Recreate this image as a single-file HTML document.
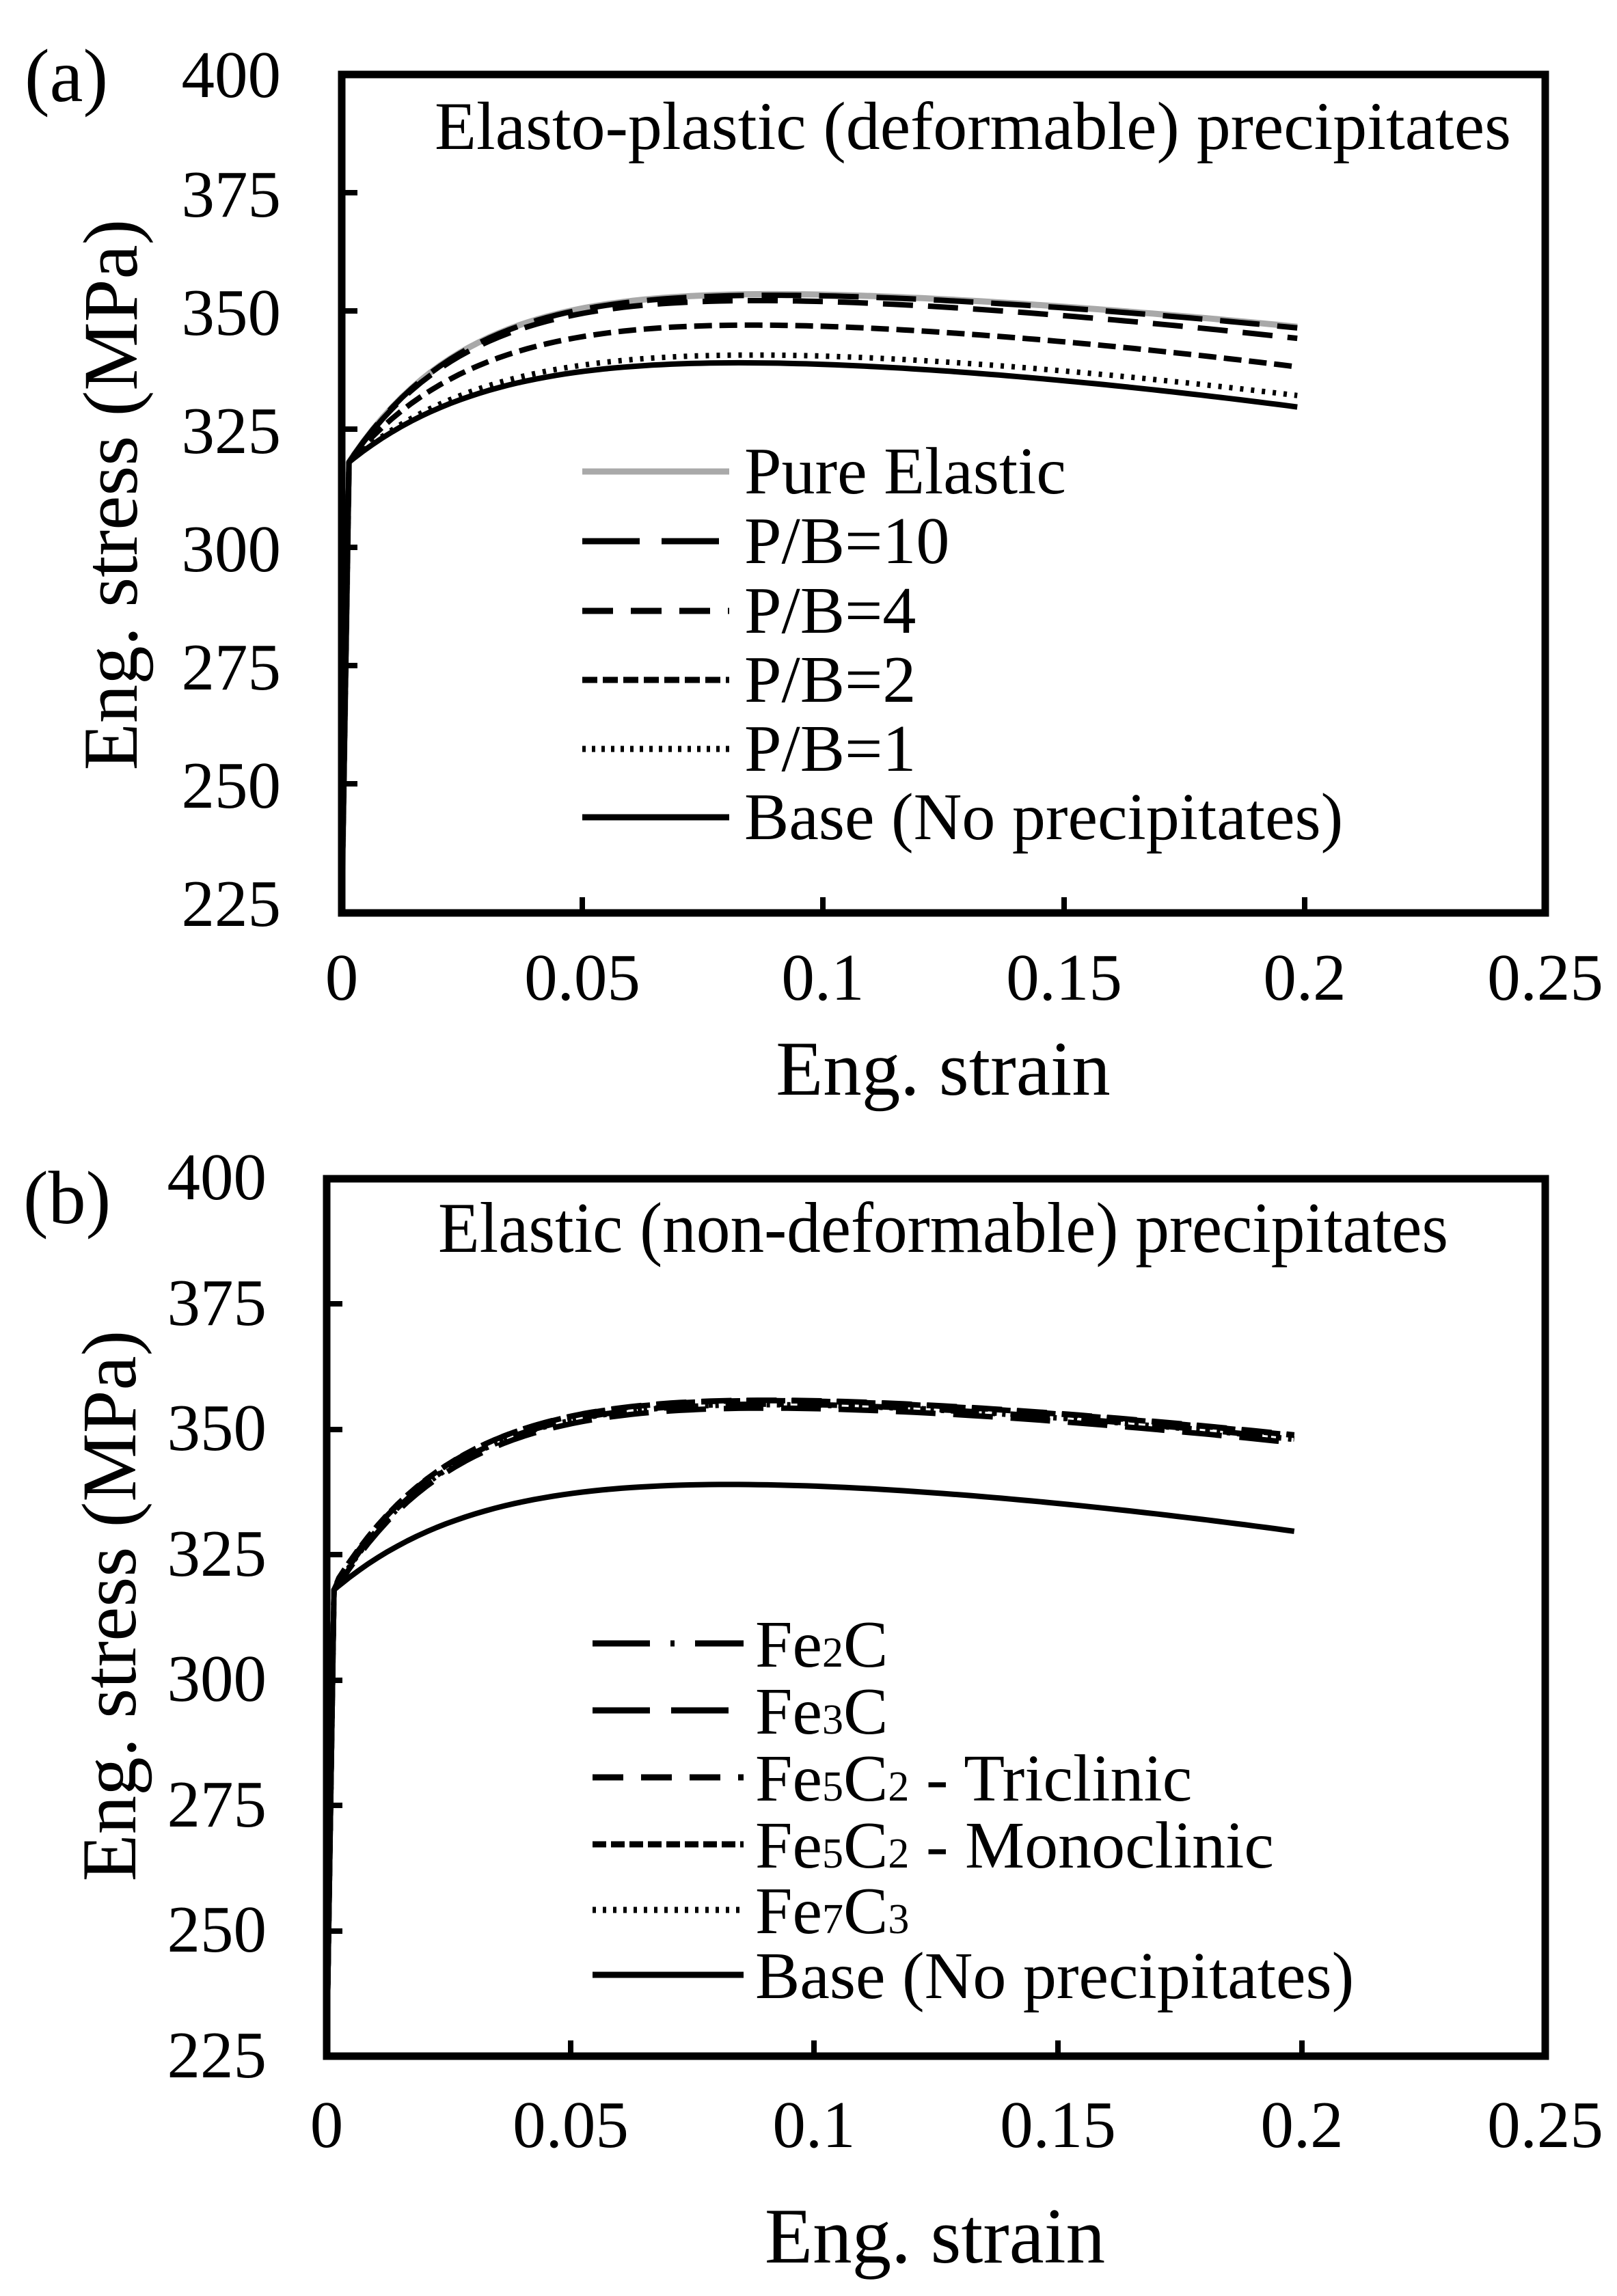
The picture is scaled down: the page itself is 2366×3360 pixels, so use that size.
<!DOCTYPE html>
<html><head><meta charset="utf-8">
<style>
html,body{margin:0;padding:0;background:#fff;}
svg{display:block;}
text{font-family:"Liberation Serif","DejaVu Serif",serif;fill:#000;}
</style></head>
<body>
<svg id="s" width="2366" height="3360" viewBox="0 0 2366 3360" xmlns="http://www.w3.org/2000/svg">
<rect width="2366" height="3360" fill="#fff"/>
<!-- ===== Panel (a) ===== -->
<g id="pa"></g>
<text x="36" y="148" font-size="110">(a)</text>
<g font-size="97" text-anchor="end">
<text x="411" y="142">400</text><text x="411" y="317">375</text><text x="411" y="490">350</text>
<text x="411" y="663">325</text><text x="411" y="836">300</text><text x="411" y="1009">275</text>
<text x="411" y="1182">250</text><text x="411" y="1355">225</text>
</g>
<g font-size="97" text-anchor="middle">
<text x="500" y="1463">0</text><text x="852" y="1463">0.05</text><text x="1204" y="1463">0.1</text>
<text x="1557" y="1463">0.15</text><text x="1909" y="1463">0.2</text><text x="2261" y="1463">0.25</text>
</g>
<text x="1380" y="1602" font-size="113" text-anchor="middle">Eng. strain</text>
<text transform="translate(200,724) rotate(-90)" font-size="113" text-anchor="middle">Eng. stress (MPa)</text>
<text x="636" y="218" font-size="100" textLength="1575" lengthAdjust="spacingAndGlyphs">Elasto-plastic (deformable) precipitates</text>
<g stroke-width="9" fill="none">
<line x1="852" y1="690" x2="1067" y2="690" stroke="#a9a9a9"/>
<line x1="852" y1="792" x2="1067" y2="792" stroke="#000" stroke-dasharray="84 32"/>
<line x1="852" y1="894" x2="1067" y2="894" stroke="#000" stroke-dasharray="45 26"/>
<line x1="852" y1="995" x2="1067" y2="995" stroke="#000" stroke-dasharray="22 8"/>
<line x1="852" y1="1096" x2="1067" y2="1096" stroke="#000" stroke-dasharray="5 9"/>
<line x1="852" y1="1196" x2="1067" y2="1196" stroke="#000"/>
</g>
<g font-size="98">
<text x="1089" y="722">Pure Elastic</text>
<text x="1089" y="824">P/B=10</text>
<text x="1089" y="926">P/B=4</text>
<text x="1089" y="1027">P/B=2</text>
<text x="1089" y="1128">P/B=1</text>
<text x="1089" y="1228">Base (No precipitates)</text>
</g>
<rect x="500" y="109" width="1761" height="1227" fill="none" stroke="#000" stroke-width="11"/>
<g stroke="#000" stroke-width="8">
<line x1="500" y1="282" x2="523" y2="282"/><line x1="500" y1="455" x2="523" y2="455"/>
<line x1="500" y1="628" x2="523" y2="628"/><line x1="500" y1="801" x2="523" y2="801"/>
<line x1="500" y1="974" x2="523" y2="974"/><line x1="500" y1="1147" x2="523" y2="1147"/>
<line x1="852" y1="1336" x2="852" y2="1313"/><line x1="1204" y1="1336" x2="1204" y2="1313"/>
<line x1="1557" y1="1336" x2="1557" y2="1313"/><line x1="1909" y1="1336" x2="1909" y2="1313"/>
</g>

<!-- ===== Panel (b) ===== -->
<g id="pb"></g>
<text x="34" y="1790" font-size="110">(b)</text>
<g font-size="97" text-anchor="end">
<text x="390" y="1755">400</text><text x="390" y="1939">375</text><text x="390" y="2122">350</text>
<text x="390" y="2306">325</text><text x="390" y="2489">300</text><text x="390" y="2673">275</text>
<text x="390" y="2856">250</text><text x="390" y="3040">225</text>
</g>
<g font-size="97" text-anchor="middle">
<text x="478" y="3142">0</text><text x="835" y="3142">0.05</text><text x="1191" y="3142">0.1</text>
<text x="1548" y="3142">0.15</text><text x="1905" y="3142">0.2</text><text x="2261" y="3142">0.25</text>
</g>
<text x="1368" y="3311" font-size="115" text-anchor="middle">Eng. strain</text>
<text transform="translate(198,2350) rotate(-90)" font-size="113" text-anchor="middle">Eng. stress (MPa)</text>
<text x="641" y="1832" font-size="105" textLength="1478" lengthAdjust="spacingAndGlyphs">Elastic (non-deformable) precipitates</text>
<g stroke-width="9" fill="none" stroke="#000">
<line x1="867" y1="2405" x2="1088" y2="2405" stroke-dasharray="84 30 6 30"/>
<line x1="867" y1="2503" x2="1088" y2="2503" stroke-dasharray="84 31"/>
<line x1="867" y1="2601" x2="1088" y2="2601" stroke-dasharray="45 26"/>
<line x1="867" y1="2699" x2="1088" y2="2699" stroke-dasharray="20 7"/>
<line x1="867" y1="2795" x2="1088" y2="2795" stroke-dasharray="5 10"/>
<line x1="867" y1="2890" x2="1088" y2="2890"/>
</g>
<g font-size="98">
<text x="1105" y="2439">Fe<tspan font-size="62">2</tspan>C</text>
<text x="1105" y="2537">Fe<tspan font-size="62">3</tspan>C</text>
<text x="1105" y="2635">Fe<tspan font-size="62">5</tspan>C<tspan font-size="62">2</tspan> - Triclinic</text>
<text x="1105" y="2733">Fe<tspan font-size="62">5</tspan>C<tspan font-size="62">2</tspan> - Monoclinic</text>
<text x="1105" y="2829">Fe<tspan font-size="62">7</tspan>C<tspan font-size="62">3</tspan></text>
<text x="1105" y="2924">Base (No precipitates)</text>
</g>
<rect x="478" y="1725" width="1783" height="1284" fill="none" stroke="#000" stroke-width="11"/>
<g stroke="#000" stroke-width="8">
<line x1="478" y1="1908" x2="501" y2="1908"/><line x1="478" y1="2092" x2="501" y2="2092"/>
<line x1="478" y1="2275" x2="501" y2="2275"/><line x1="478" y1="2459" x2="501" y2="2459"/>
<line x1="478" y1="2642" x2="501" y2="2642"/><line x1="478" y1="2826" x2="501" y2="2826"/>
<line x1="835" y1="3009" x2="835" y2="2986"/><line x1="1191" y1="3009" x2="1191" y2="2986"/>
<line x1="1548" y1="3009" x2="1548" y2="2986"/><line x1="1905" y1="3009" x2="1905" y2="2986"/>
</g>
</svg>
<script>
(function(){
var NS="http://www.w3.org/2000/svg";
function path(X0,XS,Y0,YS,A,C,t,off,ybot){
  var d="M"+X0+","+ybot;
  var e0=0.0015;
  d+=" L"+(X0+e0*XS).toFixed(1)+","+(Y0+(400-318)*YS).toFixed(1);
  for(var e=e0+0.001;e<=0.2001;e+=0.002){
    var s=318+A*(1-Math.exp(-(e-e0)/t))-C*e*e+(off||0);
    d+=" L"+(X0+e*XS).toFixed(1)+","+(Y0+(400-s)*YS).toFixed(1);
  }
  return d;
}
function add(g,d,stroke,dash,w){
  var p=document.createElementNS(NS,"path");
  p.setAttribute("d",d);p.setAttribute("fill","none");
  p.setAttribute("stroke",stroke);p.setAttribute("stroke-width",w||8);
  p.setAttribute("stroke-linejoin","round");
  if(dash)p.setAttribute("stroke-dasharray",dash);
  g.appendChild(p);
}
var ga=document.getElementById("pa");
var ax=[500,7044,109,6.92];
function pa(A,C,t){return path(ax[0],ax[1],ax[2],ax[3],A,C,t,0,1336);}
add(ga,pa(38.75,256,0.025),"#a9a9a9",null,9);
add(ga,pa(38.5,256,0.025),"#000","58 26");
add(ga,pa(37.6,289,0.025),"#000","44 22");
add(ga,pa(32.8,320,0.027),"#000","26 11");
add(ga,pa(26.6,316,0.03),"#000","5 11");
add(ga,pa(25,337,0.03),"#000",null);
var gb=document.getElementById("pb");
var bx=[478,7132,1725,7.337];
function pb(A,C,t,o){return path(bx[0],bx[1],bx[2],bx[3],A,C,t,o,3009);}
add(gb,pb(40.3,258,0.025,0),"#000","58 20 6 20");
add(gb,pb(40.0,258,0.025,-0.5),"#000","58 26");
add(gb,pb(40.6,258,0.025,0.5),"#000","44 22");
add(gb,pb(40.2,258,0.025,0.8),"#000","24 9");
add(gb,pb(40.4,258,0.025,-0.2),"#000","5 10");
add(gb,pb(25,337,0.03,0),"#000",null);
})();
</script>
</body></html>
